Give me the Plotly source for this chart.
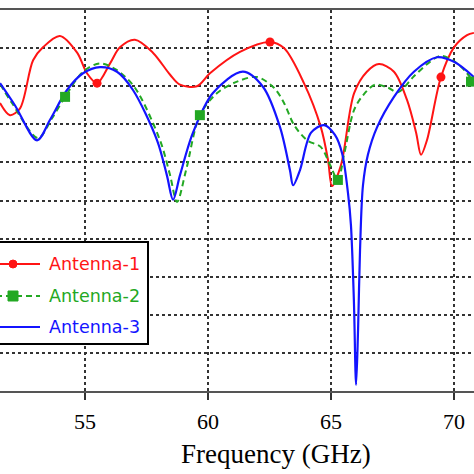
import plotly.graph_objects as go

# ---- data (frequency in GHz, reflection in dB) ----
freq_a1 = [51.545, 51.95, 52.36, 52.89, 53.29, 53.98, 54.68, 55.08, 55.49, 56.02, 56.42, 57.03,
           57.76, 58.46, 58.86, 59.55, 60.08, 61.30, 62.52, 63.09, 63.90, 64.59, 64.88, 65.04,
           65.41, 65.94, 66.46, 66.95, 67.56, 68.09, 68.46, 68.66, 68.90, 69.47, 70.00, 70.53, 70.81]
s11_a1 = [-12.2, -13.8, -12.9, -6.6, -4.9, -3.4, -5.6, -8.3, -9.6, -7.0, -4.9, -3.9,
          -5.6, -8.5, -9.8, -10.0, -8.3, -5.5, -4.2, -5.0, -9.6, -15.4, -19.7, -23.1,
          -20.3, -10.9, -8.1, -7.1, -8.1, -11.8, -16.1, -19.0, -17.1, -8.8, -4.9, -3.3, -3.0]

freq_a2 = [51.545, 52.03, 53.09, 53.66, 54.19, 54.92, 55.61, 56.30, 57.03, 58.05, 58.46, 58.74,
           59.11, 59.67, 60.37, 61.18, 61.99, 62.68, 63.09, 63.50, 64.03, 64.59, 64.96, 65.28,
           65.53, 65.94, 66.30, 66.79, 67.32, 67.72, 68.37, 69.02, 69.47, 70.04, 70.53, 70.81]
s11_a2 = [-9.7, -12.2, -16.8, -14.2, -11.4, -8.1, -7.0, -7.9, -10.2, -17.1, -21.7, -25.2,
          -21.0, -13.8, -10.9, -9.4, -8.8, -10.2, -12.2, -15.1, -17.1, -18.0, -20.3, -22.3,
          -19.0, -13.1, -11.2, -9.8, -10.2, -10.8, -8.7, -6.8, -6.0, -6.8, -8.3, -9.6]

freq_a3 = [51.545, 52.15, 53.05, 53.58, 54.27, 54.92, 55.61, 56.30, 56.95, 57.93, 58.33, 58.58,
           58.86, 59.39, 60.20, 61.42, 62.24, 62.93, 63.33, 63.46, 63.74, 64.19, 64.72, 65.16,
           65.45, 65.69, 65.81, 65.93, 66.02, 66.10, 66.18, 66.30, 66.50, 66.87, 67.56, 68.37,
           69.31, 70.00, 70.81]
s11_a3 = [-9.6, -12.5, -17.1, -14.4, -10.5, -8.3, -7.5, -8.1, -10.5, -17.1, -21.7, -24.9,
          -21.7, -16.1, -10.9, -8.1, -10.1, -15.4, -21.0, -23.0, -21.0, -16.1, -15.1, -16.4,
          -18.8, -24.0, -28.2, -38.1, -49.2, -42.0, -31.5, -23.0, -19.0, -15.4, -11.4, -8.1,
          -6.2, -6.8, -8.8]

mark_f_a1 = [55.49, 62.52, 69.47]
mark_s_a1 = [-9.6, -4.2, -8.8]
mark_f_a2 = [54.19, 59.67, 65.28, 70.69]
mark_s_a2 = [-11.4, -13.8, -22.3, -9.4]

series_names = ["Antenna-1", "Antenna-2", "Antenna-3"]
x_ticks = [55, 60, 65, 70]
x_title = "Frequency (GHz)"

RED = "#ff1414"
GREEN = "#23a823"
BLUE = "#1414ff"

fig = go.Figure()
fig.add_trace(go.Scatter(x=freq_a1, y=s11_a1, mode="lines", line=dict(color=RED, width=2, shape="spline", smoothing=0.9),
                         showlegend=False))
fig.add_trace(go.Scatter(x=freq_a2, y=s11_a2, mode="lines", line=dict(color=GREEN, width=2, dash="6px,4px", shape="spline", smoothing=0.9),
                         showlegend=False))
fig.add_trace(go.Scatter(x=freq_a3, y=s11_a3, mode="lines", line=dict(color=BLUE, width=2.2, shape="spline", smoothing=0.9),
                         showlegend=False))
fig.add_trace(go.Scatter(x=mark_f_a1, y=mark_s_a1, mode="markers", marker=dict(color=RED, size=9, symbol="circle"),
                         showlegend=False))
fig.add_trace(go.Scatter(x=mark_f_a2, y=mark_s_a2, mode="markers", marker=dict(color=GREEN, size=10, symbol="square"),
                         showlegend=False))

W, H = 474, 474
T, B = 10, 391          # plot top / bottom pixel rows
PH = B - T

def px(x):
    return x / W

def py(y):
    return (B - y) / PH

shapes = []
# legend box
shapes.append(dict(type="rect", xref="paper", yref="paper", x0=px(-6), x1=px(148), y0=py(344), y1=py(242),
                   line=dict(color="black", width=2), fillcolor="white", layer="above"))
colors = [RED, GREEN, BLUE]
rows = [264, 296, 327]
for i, (c, r) in enumerate(zip(colors, rows)):
    shapes.append(dict(type="line", xref="paper", yref="paper", x0=px(-4), x1=px(40), y0=py(r), y1=py(r),
                       line=dict(color=c, width=2, dash="6px,4px" if i == 1 else "solid"), layer="above"))
shapes.append(dict(type="circle", xref="paper", yref="paper", x0=px(9), x1=px(17), y0=py(268), y1=py(260),
                   line=dict(color=RED, width=1), fillcolor=RED, layer="above"))
shapes.append(dict(type="rect", xref="paper", yref="paper", x0=px(8), x1=px(18), y0=py(301), y1=py(291),
                   line=dict(color=GREEN, width=1), fillcolor=GREEN, layer="above"))
fig.update_layout(shapes=shapes)

annotations = []
for name, c, r in zip(series_names, colors, rows):
    annotations.append(dict(text=name, xref="paper", yref="paper", x=px(47), y=py(r), xanchor="left", yanchor="middle",
                            showarrow=False, font=dict(family="DejaVu Sans", size=17.5, color=c)))
annotations.append(dict(text=x_title, xref="paper", yref="paper", x=px(276), y=py(454), xanchor="center", yanchor="middle",
                        showarrow=False, font=dict(family="Liberation Serif", size=27, color="black")))
fig.update_layout(annotations=annotations)

fig.update_xaxes(range=[51.545, 70.813], tickvals=x_ticks, ticktext=[str(v) for v in x_ticks],
                 showgrid=True, gridcolor="#333333", griddash="3px,3px", gridwidth=2,
                 showline=True, linecolor="#555555", linewidth=1.5, mirror=True,
                 ticks="outside", ticklen=7, tickwidth=1.5, tickcolor="#333333",
                 ticklabelstandoff=3,
                 tickfont=dict(family="Liberation Serif", size=22, color="black"), zeroline=False)
fig.update_yaxes(range=[-50, 0], dtick=5, showgrid=True, gridcolor="#333333", griddash="3px,3px", gridwidth=2,
                 showticklabels=False, showline=False, zeroline=False, ticks="")

fig.update_layout(width=W, height=H, margin=dict(l=0, r=0, t=T, b=H - B),
                  plot_bgcolor="white", paper_bgcolor="white")

fig.write_html("out.html")
